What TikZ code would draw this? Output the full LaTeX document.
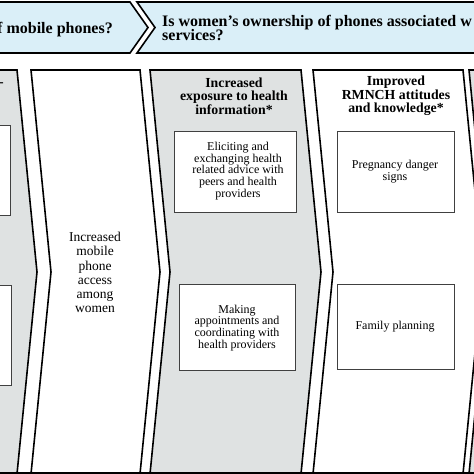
\documentclass[tikz,border=0pt]{standalone}
\usepackage{fontspec}
\setmainfont{Liberation Serif}
\definecolor{bannerblue}{HTML}{DAEFF8}
\definecolor{colgray}{HTML}{DFE2E2}
\definecolor{boxline}{HTML}{404040}
\definecolor{baseline}{HTML}{888888}
\newcommand\colpath[2]{(#1,70) -- (#2,70) -- ({#2+20},272) -- ({#2-0.6},480) -- ({#1-0.6},480) -- ({#1+20},272) -- cycle}
\begin{document}
\begin{tikzpicture}[x=1pt,y=-1pt,
  banner/.style={fill=bannerblue, draw=black, line width=1.6pt},
  graycol/.style={fill=colgray, draw=black, line width=1.6pt},
  whitecol/.style={fill=white, draw=black, line width=1.6pt},
  innerbox/.style={draw=boxline, line width=0.8pt, fill=white},
  bantext/.style={font=\fontsize{16}{15}\selectfont\bfseries, inner sep=0pt},
  headtext/.style={font=\fontsize{13.8}{13.6}\selectfont\bfseries, align=center, inner sep=0pt},
  bodytext/.style={font=\fontsize{13.5}{14.2}\selectfont, align=center, inner sep=0pt},
  boxtext/.style={font=\fontsize{12}{11.8}\selectfont, align=center, inner sep=0pt}]
\useasboundingbox (0,0) rectangle (474,474);
\clip (0,0) rectangle (474,474);
% banners
\draw[banner] (-5,2) -- (130,2) -- (148,27.5) -- (130,53) -- (-5,53) -- cycle;
\draw[banner] (480,2) -- (137,2) -- (155,27.5) -- (137,53) -- (480,53) -- cycle;
\node[bantext, anchor=base east] (q1) at (113,33.5) {f mobile phones?};
\node[bantext, anchor=base west] (q2a) at (162,26) {Is women\symbol{39}s ownership of phones associated w};
\node[bantext, anchor=base west] (q2b) at (162,40.5) {services?};
% columns
\draw[graycol] (-5,70) -- (17,70) -- (37,272) -- (16.4,480) -- (-5,480) -- cycle;
\draw[whitecol] \colpath{31}{140};
\draw[graycol] \colpath{150}{301};
\draw[whitecol] \colpath{313}{463};
\draw[graycol] \colpath{469}{620};
% column 1 (cut off)
\node[headtext, anchor=east] (c1h) at (4,85) {-};
\node[innerbox, minimum width=20pt, minimum height=90pt, anchor=north east] (c1b1) at (11,125) {};
\node[innerbox, minimum width=20pt, minimum height=100pt, anchor=north east] (c1b2) at (12,285) {};
% column 2
\node[bodytext] (c2) at (95,272.5) {Increased\\mobile\\phone\\access\\among\\women};
% column 3
\node[headtext] (c3h) at (234,96) {Increased\\exposure to health\\information*};
\node[innerbox, minimum width=122pt, minimum height=81pt, anchor=north west] (c3b1) at (174,131) {};
\node[boxtext] (c3t1) at (238,171) {Eliciting and\\exchanging health\\related advice with\\peers and health\\providers};
\node[innerbox, minimum width=116pt, minimum height=86pt, anchor=north west] (c3b2) at (179,284) {};
\node[boxtext] (c3t2) at (237,328) {Making\\appointments and\\coordinating with\\health providers};
% column 4
\node[headtext] (c4h) at (396,96) {Improved\\RMNCH attitudes\\and knowledge*};
\node[innerbox, minimum width=117pt, minimum height=81pt, anchor=north west] (c4b1) at (337,131) {};
\node[boxtext] (c4t1) at (395,172) {Pregnancy danger\\signs};
\node[innerbox, minimum width=117pt, minimum height=85pt, anchor=north west] (c4b2) at (337,284) {};
\node[boxtext] (c4t2) at (395,327) {Family planning};
% bottom line
\fill[baseline] (0,471.5) rectangle (474,475);
\end{tikzpicture}
\end{document}
